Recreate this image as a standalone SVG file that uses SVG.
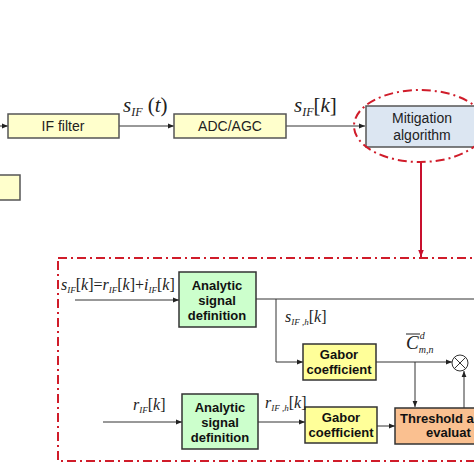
<svg xmlns="http://www.w3.org/2000/svg" width="474" height="474" viewBox="0 0 474 474">
<defs>
<marker id="ah" viewBox="0 0 10 10" refX="10" refY="5" markerWidth="6" markerHeight="6" orient="auto" markerUnits="userSpaceOnUse"><path d="M0,1 L10,5 L0,9 z" fill="#222"/></marker>
<marker id="ahr" viewBox="0 0 10 10" refX="10" refY="5" markerWidth="7" markerHeight="7" orient="auto" markerUnits="userSpaceOnUse"><path d="M0,1 L10,5 L0,9 z" fill="#c8102e"/></marker>
<style>
.box{stroke:#555;stroke-width:1.5}
.yl{fill:#ffffcc}
.bl{fill:#dce6f2}
.gr{fill:#ccffcc;stroke:#333;stroke-width:1.5}
.ye{fill:#ffff99;stroke:#333;stroke-width:1.5}
.or{fill:#fac090;stroke:#333;stroke-width:1.5}
.ln{stroke:#333;stroke-width:1;fill:none}
.red{stroke:#d01c2a;stroke-width:2;fill:none;stroke-dasharray:9,4,2,4}
.t{font-family:"Liberation Sans",Arial,sans-serif;font-size:14px;fill:#222;text-anchor:middle}
.tb{font-family:"Liberation Sans",Arial,sans-serif;font-size:13px;font-weight:bold;fill:#111;text-anchor:middle}
.m{font-family:"Liberation Serif","Times New Roman",serif;font-style:italic;fill:#222}
.mn{font-family:"Liberation Serif","Times New Roman",serif;font-style:normal;fill:#222}
</style>
</defs>
<rect width="474" height="474" fill="#fff"/>

<g id="connectors">
<line class="ln" x1="0" y1="126" x2="8" y2="126" marker-end="url(#ah)"/>
<line class="ln" x1="119" y1="126" x2="174" y2="126" marker-end="url(#ah)"/>
<line class="ln" x1="286" y1="126" x2="365" y2="126" marker-end="url(#ah)"/>
<line x1="421" y1="162" x2="421" y2="257" stroke="#c8102e" stroke-width="2" marker-end="url(#ahr)"/>
<line class="ln" x1="75" y1="300" x2="179" y2="300" marker-end="url(#ah)"/>
<line class="ln" x1="256" y1="299" x2="474" y2="299"/>
<polyline class="ln" points="276,299 276,362 303,362" marker-end="url(#ah)"/>
<line class="ln" x1="376" y1="362" x2="452" y2="362" marker-end="url(#ah)"/>
<line class="ln" x1="415" y1="362" x2="415" y2="407" marker-end="url(#ah)"/>
<line class="ln" x1="464" y1="408" x2="464" y2="371" marker-end="url(#ah)"/>
<line class="ln" x1="103" y1="422" x2="182" y2="422" marker-end="url(#ah)"/>
<line class="ln" x1="258" y1="422" x2="305" y2="422" marker-end="url(#ah)"/>
<line class="ln" x1="377" y1="426" x2="395" y2="426" marker-end="url(#ah)"/>
</g>

<g id="left-box"><rect class="box yl" x="-10" y="175" width="30" height="25"/></g>

<g id="if-filter"><rect class="box yl" x="8" y="114" width="111" height="24"/><text class="t" x="63" y="131">IF filter</text></g>

<g id="adc-agc"><rect class="box yl" x="174" y="114" width="112" height="24"/><text class="t" x="230" y="131">ADC/AGC</text></g>

<g id="mitigation"><rect class="box bl" x="366" y="106" width="120" height="41"/><text class="t" x="422" y="123">Mitigation</text><text class="t" x="422" y="140">algorithm</text></g>

<g id="highlight"><ellipse class="red" cx="420" cy="126" rx="66" ry="36"/></g>

<g id="detail-frame"><rect class="red" x="58" y="258" width="430" height="203"/></g>

<g id="analytic1"><rect class="gr" x="179" y="272" width="77" height="55"/><text class="tb" x="217" y="290">Analytic</text><text class="tb" x="217" y="305">signal</text><text class="tb" x="217" y="320">definition</text></g>

<g id="analytic2"><rect class="gr" x="182" y="394" width="76" height="55"/><text class="tb" x="220" y="412">Analytic</text><text class="tb" x="220" y="427">signal</text><text class="tb" x="220" y="442">definition</text></g>

<g id="gabor1"><rect class="ye" x="303" y="344" width="73" height="36"/><text class="tb" x="339" y="359">Gabor</text><text class="tb" x="339" y="374">coefficient</text></g>

<g id="gabor2"><rect class="ye" x="305" y="407" width="72" height="36"/><text class="tb" x="341" y="422">Gabor</text><text class="tb" x="341" y="437">coefficient</text></g>

<g id="threshold"><rect class="or" x="395" y="408" width="100" height="36"/><text class="tb" x="400" y="423" style="text-anchor:start">Threshold a</text><text class="tb" x="426" y="437" style="text-anchor:start">evaluat</text></g>

<g id="multiplier"><circle cx="460" cy="363" r="8" fill="#fff" stroke="#333" stroke-width="1"/><path d="M454.3,357.3 L465.7,368.7 M465.7,357.3 L454.3,368.7" stroke="#333" stroke-width="1"/></g>

<g id="labels">
<text class="m" x="123" y="112" font-size="21">s<tspan font-size="12" dy="4">IF</tspan><tspan font-style="normal" dy="-4"> (</tspan>t<tspan font-style="normal">)</tspan></text>
<text class="m" x="294" y="112" font-size="21">s<tspan font-size="12" dy="4">IF</tspan><tspan font-style="normal" dy="-4">[</tspan>k<tspan font-style="normal">]</tspan></text>
<text class="m" x="61" y="290" font-size="16">s<tspan font-size="9" dy="3">IF</tspan><tspan font-style="normal" dy="-3">[</tspan>k<tspan font-style="normal">]=</tspan>r<tspan font-size="9" dy="3">IF</tspan><tspan font-style="normal" dy="-3">[</tspan>k<tspan font-style="normal">]+</tspan>i<tspan font-size="9" dy="3">IF</tspan><tspan font-style="normal" dy="-3">[</tspan>k<tspan font-style="normal">]</tspan></text>
<text class="m" x="285" y="322" font-size="16">s<tspan font-size="9" dy="3">IF ,h</tspan><tspan font-style="normal" dy="-3">[</tspan>k<tspan font-style="normal">]</tspan></text>
<text class="m" x="133" y="410" font-size="16">r<tspan font-size="9" dy="3">IF</tspan><tspan font-style="normal" dy="-3">[</tspan>k<tspan font-style="normal">]</tspan></text>
<text class="m" x="265" y="408" font-size="16">r<tspan font-size="9" dy="3">IF ,h</tspan><tspan font-style="normal" dy="-3">[</tspan>k<tspan font-style="normal">]</tspan></text>
<text class="m" x="406" y="349" font-size="19">C<tspan font-size="10" dx="1" dy="-10">d</tspan><tspan font-size="10" dx="-6" dy="14">m,n</tspan></text>
<line x1="406" y1="334" x2="420" y2="334" stroke="#222" stroke-width="1"/>
</g>
</svg>
